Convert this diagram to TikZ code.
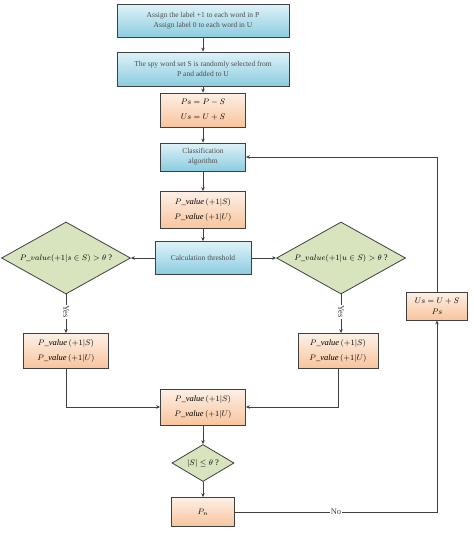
\documentclass[tikz,border=0pt]{standalone}
\usepackage{amsmath,amssymb}
\usepackage{fontspec}
\setmainfont{Liberation Serif}
\usepackage{tikz}
\usetikzlibrary{arrows.meta, shapes.geometric}
\definecolor{bluetop}{RGB}{222,242,248}
\definecolor{bluebot}{RGB}{139,204,224}
\definecolor{orgtop}{RGB}{253,240,230}
\definecolor{orgbot}{RGB}{248,196,156}
\definecolor{decfill}{RGB}{215,228,189}
\definecolor{edge}{RGB}{64,64,64}

\newcommand{\pval}[1]{$P\_\mathit{value}\left(+1|#1\right)$}

\begin{document}
\begin{tikzpicture}[
    x=1pt, y=-1pt,
    box/.style={draw=edge, line width=0.8pt, align=center, inner sep=1pt, font=\fontsize{7.5}{10}\selectfont},
    bluebox/.style={box, top color=bluetop, bottom color=bluebot, text=black!70},
    orgbox/.style={box, top color=orgtop, bottom color=orgbot, font=\fontsize{8.5}{15}\selectfont},
    dec/.style={diamond, aspect=1.8, draw=edge, line width=0.8pt, fill=decfill, inner sep=0pt, font=\fontsize{8.5}{10}\selectfont},
    arr/.style={-{Stealth[length=4pt,width=3.5pt]}, line width=0.8pt, color=edge},
    lbl/.style={fill=white, inner sep=1pt, font=\fontsize{8.5}{10}\selectfont}
  ]
  \useasboundingbox (0,0) rectangle (474,533);
  % main column
  \node[bluebox, minimum width=172pt, minimum height=33pt] (assign) at (203,21)
    {Assign the label +1 to each word in P\\Assign label 0 to each word in U};
  \node[bluebox, minimum width=172pt, minimum height=34pt] (spy) at (203,69)
    {The spy word set S is randomly selected from\\P and added to U};
  \node[orgbox, minimum width=85pt, minimum height=34pt] (sets) at (203,110)
    {$Ps=P-S$\\$Us=U+S$};
  \node[bluebox, minimum width=85pt, minimum height=28pt] (cls) at (203,157)
    {Classification\\algorithm};
  \node[orgbox, minimum width=85pt, minimum height=37pt] (pv) at (203,210)
    {\pval{S}\\\pval{U}};
  \node[bluebox, minimum width=96pt, minimum height=33pt] (calc) at (203,258)
    {Calculation threshold};
  % the two tests
  \node[dec, minimum width=129pt, minimum height=72pt] (dleft) at (66,258)
    {$P\_value(+1|s\in S)>\theta$ ?};
  \node[dec, minimum width=129pt, minimum height=72pt] (dright) at (341,258)
    {$P\_value(+1|u\in S)>\theta$ ?};
  \node[orgbox, minimum width=85pt, minimum height=35pt] (pleft) at (66,351)
    {\pval{S}\\\pval{U}};
  \node[orgbox, minimum width=80pt, minimum height=35pt] (pright) at (338,351)
    {\pval{S}\\\pval{U}};
  % merge and stop test
  \node[orgbox, minimum width=85pt, minimum height=36pt] (merge) at (203,407)
    {\pval{S}\\\pval{U}};
  \node[dec, minimum width=62pt, minimum height=37pt] (stop) at (203,463)
    {$|S|\leq\theta$ ?};
  \node[orgbox, minimum width=63pt, minimum height=29pt] (pn) at (203,512)
    {$P_n$};
  \node[orgbox, minimum width=61pt, minimum height=28pt] (upd) at (437,306)
    {$Us=U+S$\\[-4pt]$Ps$};
  % connectors
  \draw[arr] (assign) -- (spy);
  \draw[arr] (spy) -- (sets);
  \draw[arr] (sets) -- (cls);
  \draw[arr] (cls) -- (pv);
  \draw[arr] (pv) -- (calc);
  \draw[arr] (calc) -- (dleft);
  \draw[arr] (calc) -- (dright);
  \draw[arr] (dleft) -- (pleft) node[lbl, pos=0.45, rotate=-90]{Yes};
  \draw[arr] (dright.south) -- (dright.south |- pright.north) node[lbl, pos=0.45, rotate=-90]{Yes};
  \draw[arr] (pleft.south) |- (merge.west);
  \draw[arr] (pright.south) |- (merge.east);
  \draw[arr] (merge) -- (stop);
  \draw[arr] (stop) -- (pn);
  \draw[arr] (pn.east) -| (upd.south) node[lbl, pos=0.25]{No};
  \draw[arr] (upd.north) |- (cls.east);
\end{tikzpicture}
\end{document}
